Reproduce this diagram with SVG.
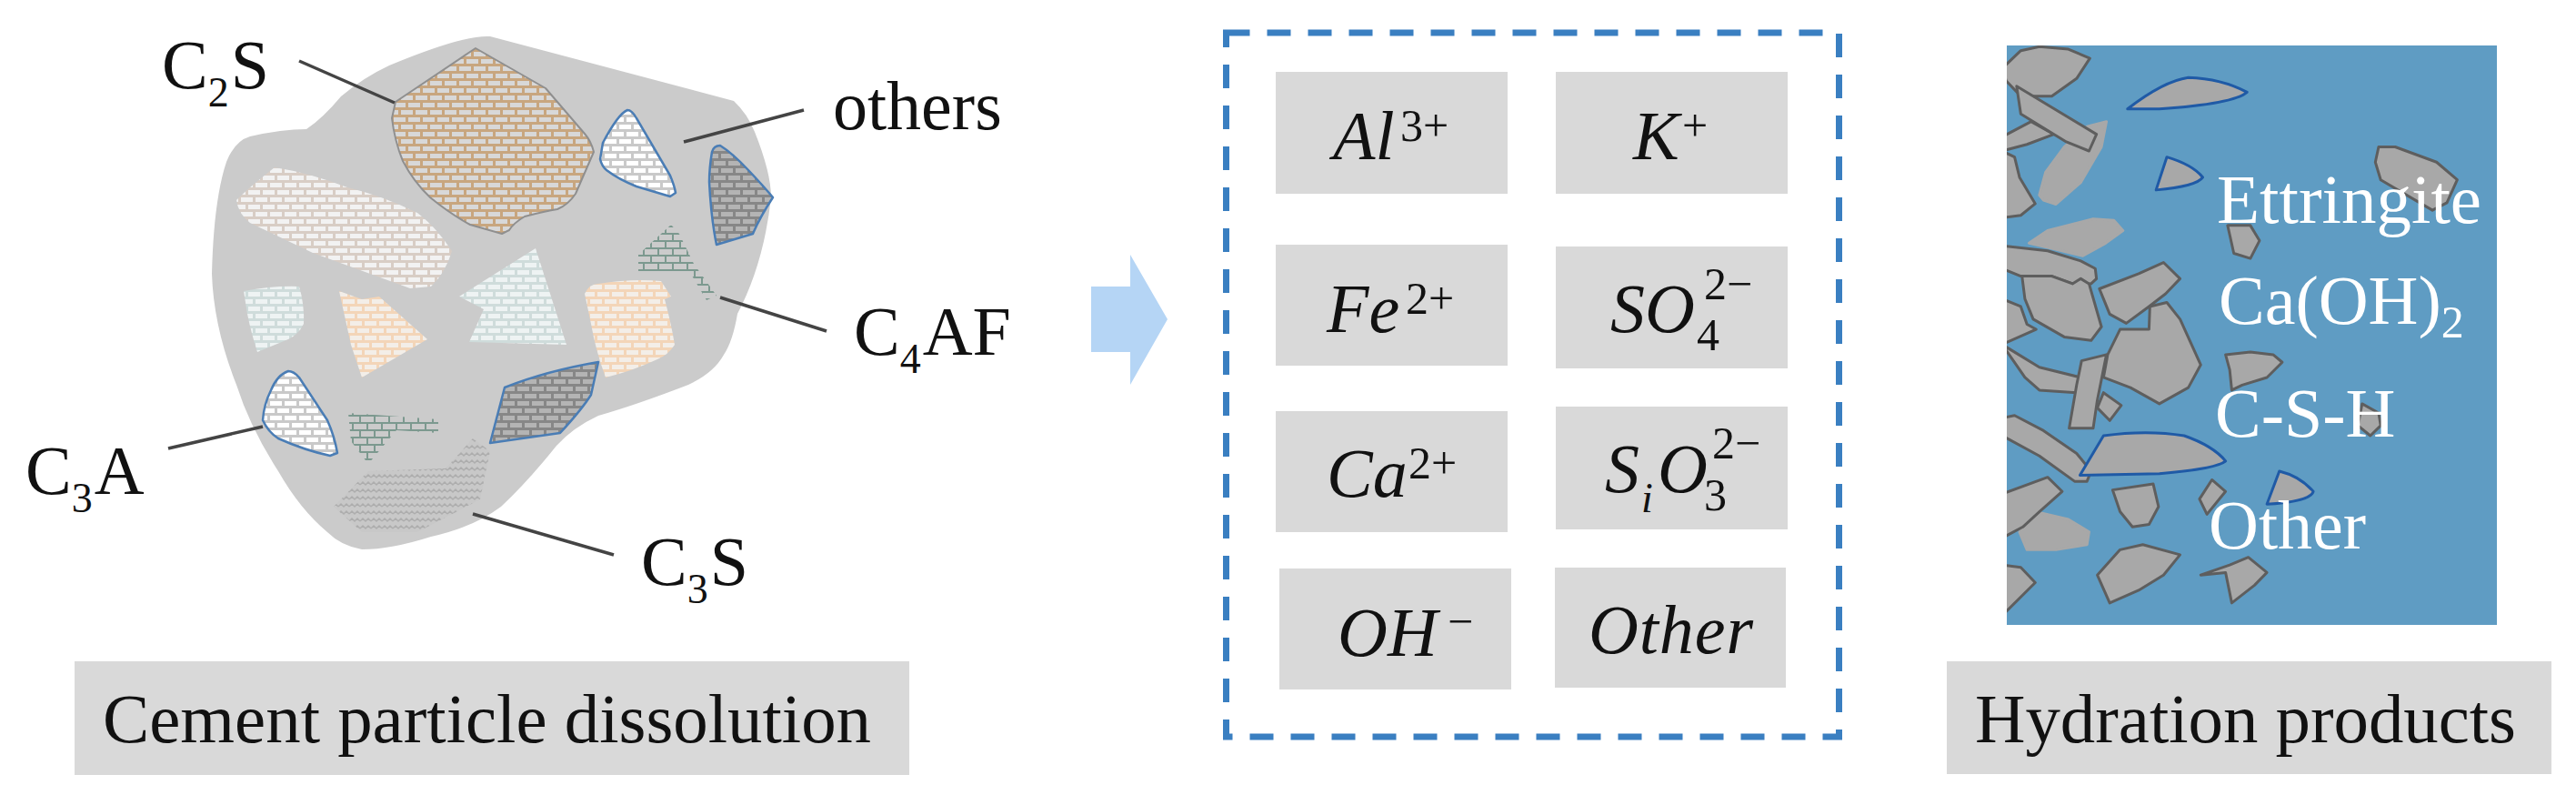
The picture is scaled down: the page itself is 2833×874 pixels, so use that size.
<svg xmlns="http://www.w3.org/2000/svg" width="2833" height="874" viewBox="0 0 2833 874">
<style>
text{font-family:"Liberation Serif","Times New Roman",serif;font-size:76px;fill:#111}
.i{font-style:italic}
.s{font-size:50px;font-style:normal}
.w{fill:#fff}
.box{fill:#d9d9d9}
.lead{stroke:#444;stroke-width:3.5;fill:none}
.bo{stroke:#4a7db5;stroke-width:2.5;stroke-linejoin:round}
.p{fill:#a8a8a8;stroke:#5e5e5e;stroke-width:3;stroke-linejoin:round;vector-effect:non-scaling-stroke}
.pb{fill:#a8a8a8;stroke:#1f5aa6;stroke-width:3;stroke-linejoin:round;vector-effect:non-scaling-stroke}
.pf{fill:#a8a8a8;stroke:#a8a8a8;stroke-width:3;stroke-linejoin:round;vector-effect:non-scaling-stroke}
</style>
<defs>
<pattern id="bC2S" patternUnits="userSpaceOnUse" width="16" height="16"><rect width="16" height="16" fill="#c8a67f"/><path d="M1 1h13v5H1zM-7 9H6v5H-7zM9 9h13v5H9z" fill="#d8d8d8"/></pattern>
<pattern id="bWhite" patternUnits="userSpaceOnUse" width="16" height="16"><rect width="16" height="16" fill="#c9c9c9"/><path d="M1 1h13v5H1zM-7 9H6v5H-7zM9 9h13v5H9z" fill="#fff"/></pattern>
<pattern id="bDark" patternUnits="userSpaceOnUse" width="16" height="16"><rect width="16" height="16" fill="#878787"/><path d="M1 1h13v5H1zM-7 9H6v5H-7zM9 9h13v5H9z" fill="#b4b4b4"/></pattern>
<pattern id="bBrown" patternUnits="userSpaceOnUse" width="16" height="16"><rect width="16" height="16" fill="#d8cdc5"/><path d="M1 1h13v5H1zM-7 9H6v5H-7zM9 9h13v5H9z" fill="#f2f2f2"/></pattern>
<pattern id="bGreen" patternUnits="userSpaceOnUse" width="16" height="16"><rect width="16" height="16" fill="#cfdcdb"/><path d="M1 1h13v5H1zM-7 9H6v5H-7zM9 9h13v5H9z" fill="#eef3f3"/></pattern>
<pattern id="bOrange" patternUnits="userSpaceOnUse" width="16" height="16"><rect width="16" height="16" fill="#f3d5b8"/><path d="M1 1h13v5H1zM-7 9H6v5H-7zM9 9h13v5H9z" fill="#f3eee8"/></pattern>
<pattern id="bLine" patternUnits="userSpaceOnUse" width="16" height="16"><path d="M0 1H16M0 9H16M4 1V9M12 9V17" fill="none" stroke="#7c998f" stroke-width="2"/></pattern>
<pattern id="zig" patternUnits="userSpaceOnUse" width="12" height="8"><rect width="12" height="8" fill="#c8c8c8"/><path d="M0 5L3 2L6 5L9 2L12 5" fill="none" stroke="#adadad" stroke-width="1.5"/></pattern>
<clipPath id="panel"><rect x="2207" y="50" width="539" height="637"/></clipPath>
</defs>

<g id="cement-particle">
<path fill="#cbcbcb" d="M539 40L807 111Q822 125 830 145Q848 190 848 217Q840 290 811 345Q806 375 796 390Q785 410 757 423Q700 445 658 457Q630 470 612 490Q580 530 551 557Q520 580 474 590Q430 604 398 604Q375 600 360 585Q330 560 306 518Q275 470 260 423Q235 360 233 301Q235 220 249 178Q258 155 275 150Q310 142 337 142Q355 130 375 106Q400 85 428 72Q510 38 539 40Z"/>
<path id="grain-c2s" fill="url(#bC2S)" stroke="#8f8f8f" stroke-width="2" stroke-linejoin="round" d="M523 53L435 112L431 130Q434 155 443 177Q455 200 473 217Q495 235 517 247L552 257L560 253Q565 245 577 238Q600 232 613 230Q625 225 633 213L653 167Q650 155 643 147L600 97Z"/>
<path id="grain-c3a-top" class="bo" fill="url(#bWhite)" d="M690 121Q680 125 663 157L660 175Q662 183 667 187Q680 197 700 205L737 216L743 212Q742 205 737 193L700 130Q695 121 690 121Z"/>
<path id="grain-dark-top" class="bo" fill="url(#bDark)" d="M792 160Q785 160 783 167Q780 185 780 200Q782 240 788 269L828 257Q835 240 850 217Q840 205 823 187Q805 168 792 160Z"/>
<path id="grain-brown" fill="url(#bBrown)" d="M302 184Q275 205 260 220Q262 235 275 245L344 278L451 317L474 315Q490 300 497 276Q480 250 459 234Q420 215 382 206Q340 190 302 184Z"/>
<path id="grain-green-left" fill="url(#bGreen)" d="M268 320Q300 314 329 315Q335 335 334 356Q328 368 317 373L283 387Q276 365 272 345Z"/>
<polygon id="grain-orange-tri" fill="url(#bOrange)" points="373,320 398,329 417,326 470,373 398,415 386,379"/>
<polygon id="grain-green-tri" fill="url(#bGreen)" points="589,273 623,379 516,376 532,340 505,326"/>
<path id="grain-orange" fill="url(#bOrange)" d="M643 323Q648 312 658 312Q695 306 727 309L738 326L731 329Q738 355 742 379Q735 390 723 395Q695 408 666 415Q655 385 650 356Z"/>
<path id="grain-dark-low" class="bo" fill="url(#bDark)" d="M658 398Q600 408 555 426L539 487L616 476Q640 450 650 434Z"/>
<path id="grain-c3a-low" class="bo" fill="url(#bWhite)" d="M317 408Q305 412 298 429Q290 445 289 462Q295 475 306 482Q335 495 363 501L371 498Q368 480 360 462L329 415Q323 408 317 408Z"/>
<polygon id="grain-c4af-top" fill="url(#bLine)" points="738,247 702,280 702,298 758,298 777,330 788,325 763,290 747,257"/>
<polygon id="grain-c4af-low" fill="url(#bLine)" points="383,454 482,461 482,476 436,473 405,510 386,485"/>
<polygon id="grain-c3s" fill="url(#zig)" points="520,482 539,496 528,549 459,585 398,585 367,557 405,518 490,515"/>
</g>

<g id="connectors">
<line class="lead" x1="329" y1="67" x2="434" y2="113"/>
<line class="lead" x1="884" y1="121" x2="752" y2="156"/>
<line class="lead" x1="792" y1="327" x2="909" y2="364"/>
<line class="lead" x1="289" y1="469" x2="185" y2="493"/>
<line class="lead" x1="520" y1="565" x2="675" y2="610"/>
</g>

<g id="label-c2s"><text x="178" y="97">C<tspan style="font-size:46px" dy="20">2</tspan><tspan dy="-20" dx="2">S</tspan></text></g>
<g id="label-others"><text x="916" y="142">others</text></g>
<g id="label-c4af"><text x="939" y="390">C<tspan style="font-size:46px" dy="20">4</tspan><tspan dy="-20" dx="2">AF</tspan></text></g>
<g id="label-c3a"><text x="28" y="543">C<tspan style="font-size:46px" dy="20">3</tspan><tspan dy="-20" dx="2">A</tspan></text></g>
<g id="label-c3s"><text x="705" y="643">C<tspan style="font-size:46px" dy="20">3</tspan><tspan dy="-20" dx="2">S</tspan></text></g>

<g id="caption-dissolution"><rect class="box" x="82" y="727" width="918" height="125"/><text x="113" y="816" textLength="845" lengthAdjust="spacingAndGlyphs">Cement particle dissolution</text></g>

<g id="arrow"><polygon fill="#b5d5f5" points="1200,315 1243,315 1243,280 1284,351 1243,423 1243,387 1200,387"/></g>

<g id="ion-frame"><rect x="1348.500" y="36" width="674" height="774" fill="none" stroke="#3a7fc1" stroke-width="7" stroke-dasharray="26 19"/></g>

<g id="ion-al"><rect class="box" x="1403" y="79" width="255" height="134"/><text class="i" x="1466" y="175">Al</text><text class="s" x="1540" y="155">3+</text></g>
<g id="ion-k"><rect class="box" x="1711" y="79" width="255" height="134"/><text class="i" x="1796" y="175">K</text><text class="s" x="1850" y="155">+</text></g>
<g id="ion-fe"><rect class="box" x="1403" y="269" width="255" height="133"/><text class="i" x="1459" y="365">Fe</text><text class="s" x="1546" y="345">2+</text></g>
<g id="ion-so4"><rect class="box" x="1711" y="271" width="255" height="134"/><text class="i" x="1771" y="365">SO</text><text class="s" x="1874" y="329">2−</text><text class="s" x="1866" y="385">4</text></g>
<g id="ion-ca"><rect class="box" x="1403" y="452" width="255" height="133"/><text class="i" x="1459" y="546">Ca</text><text class="s" x="1549" y="526">2+</text></g>
<g id="ion-sio3"><rect class="box" x="1711" y="447" width="255" height="135"/><text class="i" x="1765" y="541">S</text><text class="i" style="font-size:46px" x="1805" y="563">i</text><text class="i" x="1823" y="541">O</text><text class="s" x="1883" y="504">2−</text><text class="s" x="1874" y="561">3</text></g>
<g id="ion-oh"><rect class="box" x="1407" y="625" width="255" height="133"/><text class="i" x="1471" y="721">OH</text><text class="s" x="1592" y="700">−</text></g>
<g id="ion-other"><rect class="box" x="1710" y="624" width="254" height="132"/><text class="i" x="1747" y="718" textLength="181" lengthAdjust="spacing">Other</text></g>

<g id="hydration-panel">
<rect x="2207" y="50" width="539" height="637" fill="#5f9cc3"/>
<g clip-path="url(#panel)"><g transform="matrix(.455 0 0 .557 2120 0)">
<polygon class="pf" points="270,385 285,340 330,290 385,250 432,240 420,290 370,360 310,403 280,395"/>
<polygon class="pf" points="245,480 290,455 400,432 450,435 472,455 430,480 375,505 300,490"/>
<polygon class="pf" points="222,1050 260,1010 340,1025 390,1050 385,1075 310,1085 240,1085"/>
<polygon class="p" points="180,270 250,240 305,265 240,285 180,298"/>
<polygon class="p" points="180,135 225,100 270,92 340,97 392,115 360,155 300,190 225,190 190,160"/>
<polygon class="p" points="215,170 408,265 390,298 335,280 225,225"/>
<polygon class="p" points="180,298 210,310 222,350 260,402 225,425 180,430"/>
<polygon class="p" points="180,485 290,495 370,515 405,530 408,550 395,560 350,560 300,545 225,545 180,530"/>
<polygon class="p" points="228,545 300,545 350,560 370,550 390,560 420,645 395,672 330,665 255,630 235,590"/>
<polygon class="p" points="415,570 510,540 570,518 610,550 575,580 535,605 480,638 440,620 425,590"/>
<polygon class="p" points="180,590 225,605 240,640 262,650 180,680"/>
<polygon class="p" points="465,650 535,650 537,605 578,597 610,630 660,720 630,765 560,797 490,765 425,745 435,700"/>
<polygon class="p" points="180,680 270,725 370,745 360,775 270,770 235,745"/>
<polygon class="p" points="425,775 468,800 440,830 410,805"/>
<polygon class="p" points="372,712 432,700 410,790 400,845 342,845 360,760"/>
<polygon class="p" points="180,825 210,820 280,850 360,895 395,930 385,950 355,950 270,900 180,860"/>
<path class="pb" d="M425 860Q530 848 620 860Q690 880 720 910Q700 925 560 935L368 938Z"/>
<polygon class="p" points="180,975 290,942 325,970 270,1010 230,1040 180,1062"/>
<polygon class="p" points="447,967 545,955 558,1000 535,1035 495,1040 465,1010"/>
<polygon class="p" points="687,947 720,970 675,1015 657,985"/>
<path class="pb" d="M850 930Q900 940 932 970Q925 990 820 995Z"/>
<polygon class="p" points="410,1135 465,1085 520,1075 610,1095 570,1135 510,1165 440,1190"/>
<polygon class="p" points="660,1135 730,1115 775,1100 820,1130 790,1155 735,1190 720,1130"/>
<polygon class="p" points="180,1115 225,1120 260,1150 180,1215"/>
<polygon class="p" points="1090,290 1130,290 1230,320 1280,355 1255,400 1220,415 1095,355 1082,320"/>
<polygon class="p" points="725,445 780,445 802,475 780,510 740,500"/>
<polygon class="p" points="720,700 780,695 835,700 857,715 820,745 760,760 735,770 730,730"/>
<polygon class="p" points="1050,797 1090,815 1095,840 1070,860 1040,840"/>
<path class="pb" d="M483 215Q570 160 630 153Q710 155 772 182Q740 205 560 215Z"/>
<path class="pb" d="M578 310Q640 325 665 350Q650 368 552 375Z"/>
</g></g>
<text class="w" x="2438" y="245" textLength="291" lengthAdjust="spacingAndGlyphs">Ettringite</text>
<text class="w" x="2440" y="356">Ca(OH)<tspan style="font-size:50px;fill:#fff" dy="15">2</tspan></text>
<text class="w" x="2436" y="480">C-S-H</text>
<text class="w" x="2429" y="603">Other</text>
</g>

<g id="caption-hydration"><rect class="box" x="2141" y="727" width="665" height="124"/><text x="2172" y="816" textLength="595" lengthAdjust="spacingAndGlyphs">Hydration products</text></g>
</svg>
